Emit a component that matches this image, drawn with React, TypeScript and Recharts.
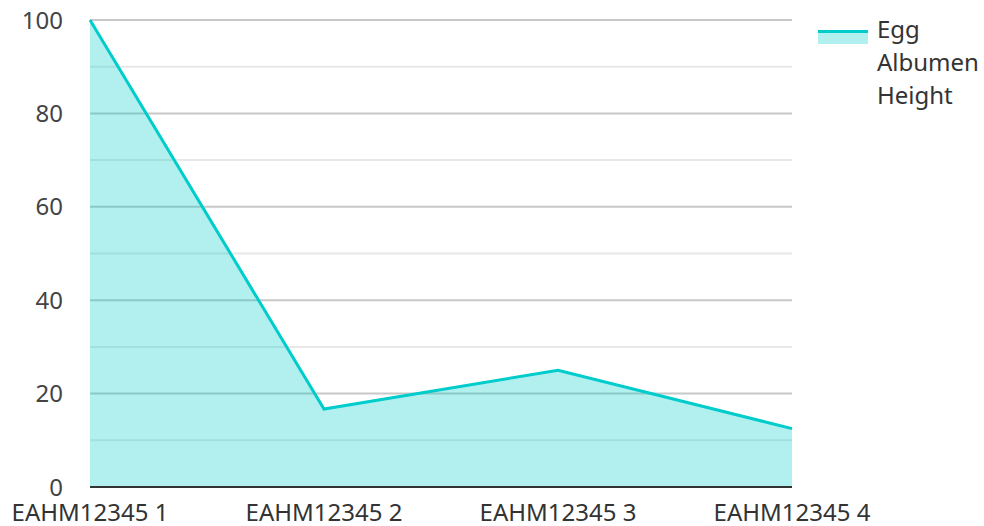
import { AreaChart, Area, XAxis, YAxis, CartesianGrid, Legend } from "recharts";

const samples = ["EAHM12345 1", "EAHM12345 2", "EAHM12345 3", "EAHM12345 4"];
const albumenHeight = [100, 16.7, 25, 12.5];
const yTicks = [0, 20, 40, 60, 80, 100];
const minorLines = [10, 30, 50, 70, 90];

const TEAL = "#00cccc";
const FONT = "'Noto Sans', 'Open Sans', sans-serif";

const data = samples.map((name, i) => ({ name, value: albumenHeight[i] }));

function LegendBox() {
  return (
    <div style={{ display: "flex", alignItems: "flex-start", fontFamily: FONT, fontSize: 24, color: "#333" }}>
      <svg width={50} height={14} style={{ marginTop: 18, marginRight: 9, flexShrink: 0 }}>
        <rect x={0} y={0} width={50} height={14} fill={TEAL} fillOpacity={0.3} />
        <rect x={0} y={0} width={50} height={3} fill={TEAL} />
      </svg>
      <span style={{ width: 107 }}>Egg Albumen Height</span>
    </div>
  );
}

export default function App() {
  return (
    <div style={{ width: 984, height: 526 }}>
      <style>{`body{margin:0}`}</style>
      <AreaChart width={984} height={526} data={data} margin={{ top: 20, right: 26, bottom: 0, left: 0 }}>
        {/* minor lines first, major grid on top, both under the area */}
        <CartesianGrid vertical={false} horizontalValues={minorLines} stroke="#e8e8e8" strokeWidth={2} />
        <CartesianGrid vertical={false} stroke="#c8c8c8" strokeWidth={2} />
        <XAxis
          dataKey="name"
          interval={0}
          height={39}
          tickLine={false}
          tickMargin={11}
          axisLine={{ stroke: "#333", strokeWidth: 2 }}
          tick={{ fontSize: 24, fill: "#333", fontFamily: FONT }}
        />
        <YAxis
          domain={[0, 100]}
          ticks={yTicks}
          width={90}
          axisLine={false}
          tickLine={false}
          tickMargin={21}
          tick={{ fontSize: 24, fill: "#444", fontFamily: FONT }}
        />
        <Legend
          layout="vertical"
          align="right"
          verticalAlign="top"
          wrapperStyle={{ left: 818, top: 12, width: 166 }}
          content={() => <LegendBox />}
        />
        <Area
          type="linear"
          dataKey="value"
          stroke={TEAL}
          strokeWidth={3}
          fill={TEAL}
          fillOpacity={0.3}
          dot={false}
          activeDot={false}
          isAnimationActive={false}
        />
      </AreaChart>
    </div>
  );
}
